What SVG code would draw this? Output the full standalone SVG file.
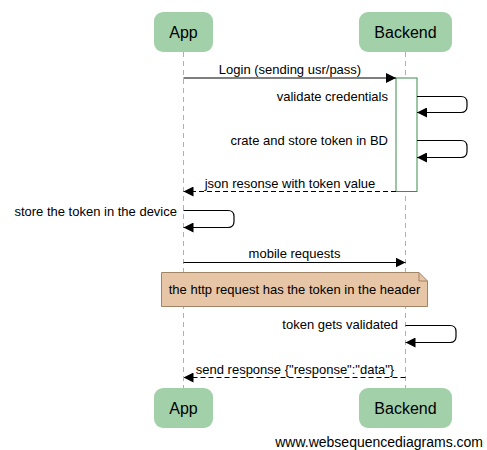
<svg xmlns="http://www.w3.org/2000/svg" width="487" height="450" viewBox="0 0 487 450">
<defs>
<style>
text{font-family:"Liberation Sans",Arial,sans-serif;fill:#000}
.actor rect{fill:#a2d0a9;stroke:none}
.actor text{font-size:16px;text-anchor:middle}
.life{stroke:#b0b0b0;stroke-width:1;stroke-dasharray:5,4;fill:none}
.msg{stroke:#000;stroke-width:1.2;fill:none}
.dash{stroke-dasharray:5,3}
.lbl{font-size:13px}
</style>
<marker id="ah" viewBox="0 0 10 10" refX="10" refY="5" markerWidth="10" markerHeight="10" markerUnits="userSpaceOnUse" orient="auto">
<path d="M0,0 L10,5 L0,10 z" fill="#000"/>
</marker>
</defs>
<rect width="487" height="450" fill="#fff"/>
<g id="lifelines">
<line class="life" x1="183.5" y1="52" x2="183.5" y2="388"/>
<line class="life" x1="405.5" y1="52" x2="405.5" y2="388"/>
</g>
<g id="actor-app-top" class="actor"><rect x="154" y="12" width="59" height="40" rx="9"/><text x="183.5" y="38">App</text></g>
<g id="actor-backend-top" class="actor"><rect x="359" y="12" width="93" height="40" rx="9"/><text x="405.5" y="38">Backend</text></g>
<g id="activation"><rect x="396" y="78" width="21" height="113.5" fill="#fff" stroke="#3c8c4c" stroke-width="1"/></g>
<g id="note"><path d="M161.5,272.5 H419 L427.5,281 V306.5 H161.5 Z" fill="#e6c6a6" stroke="#a08466" stroke-width="1"/><path d="M419,272.5 V281 H427.5" fill="none" stroke="#a08466" stroke-width="1"/><text class="lbl" x="294.5" y="294" text-anchor="middle">the http request has the token in the header</text></g>
<g id="connectors">
<line class="msg" x1="183.5" y1="78" x2="396" y2="78" marker-end="url(#ah)"/>
<text class="lbl" x="290" y="74" text-anchor="middle">Login (sending usr/pass)</text>
<path class="msg" d="M417,96.5 H461 Q467,96.5 467,102.5 V106.5 Q467,112.5 461,112.5 H417" marker-end="url(#ah)"/>
<text class="lbl" x="388" y="101" text-anchor="end">validate credentials</text>
<path class="msg" d="M417,140.5 H461 Q467,140.5 467,146.5 V151.5 Q467,157.5 461,157.5 H417" marker-end="url(#ah)"/>
<text class="lbl" x="388" y="145" text-anchor="end">crate and store token in BD</text>
<line class="msg dash" x1="396" y1="191.5" x2="183.5" y2="191.5" marker-end="url(#ah)"/>
<text class="lbl" x="290" y="188" text-anchor="middle">json resonse with token value</text>
<path class="msg" d="M183.5,210.5 H228 Q234,210.5 234,216.5 V221.5 Q234,227.5 228,227.5 H183.5" marker-end="url(#ah)"/>
<text class="lbl" x="177" y="216" text-anchor="end">store the token in the device</text>
<line class="msg" x1="183.5" y1="262.5" x2="405.5" y2="262.5" marker-end="url(#ah)"/>
<text class="lbl" x="294.5" y="258" text-anchor="middle">mobile requests</text>
<path class="msg" d="M405.5,325.5 H450 Q456,325.5 456,331.5 V336.5 Q456,342.5 450,342.5 H405.5" marker-end="url(#ah)"/>
<text class="lbl" x="398" y="329" text-anchor="end">token gets validated</text>
<line class="msg dash" x1="405.5" y1="377.5" x2="183.5" y2="377.5" marker-end="url(#ah)"/>
<text class="lbl" x="295" y="374" text-anchor="middle">send response {"response":"data"}</text>
</g>
<g id="actor-app-bottom" class="actor"><rect x="154" y="388" width="59" height="40" rx="9"/><text x="183.5" y="414">App</text></g>
<g id="actor-backend-bottom" class="actor"><rect x="359" y="388" width="93" height="40" rx="9"/><text x="405.5" y="414">Backend</text></g>
<text x="483" y="447" font-size="14" text-anchor="end">www.websequencediagrams.com</text>
</svg>
